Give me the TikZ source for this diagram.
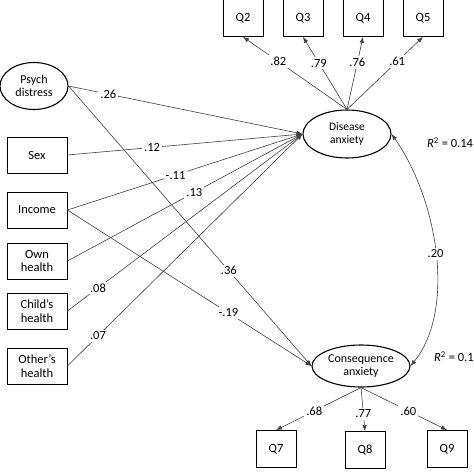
\documentclass[tikz,border=0pt]{standalone}
\usepackage{fontspec}
\setmainfont{Carlito}
\usetikzlibrary{shapes.geometric,arrows.meta}
\begin{document}
\begin{tikzpicture}[x=1pt,y=-1pt,
  font=\fontsize{12.5}{13.5}\selectfont,
  obs/.style={draw=black,line width=0.8pt,minimum width=60pt,minimum height=36pt,align=center,inner sep=1pt},
  qbox/.style={draw=black,line width=0.8pt,minimum width=40pt,minimum height=37pt,inner sep=1pt},
  lat/.style={ellipse,draw=black,line width=1.1pt,align=center,inner sep=0pt},
  path/.style={draw=black!75,line width=0.6pt,-{Latex[length=6pt,width=4.5pt]}},
  lab/.style={fill=white,inner sep=2pt,font=\fontsize{12.5}{13.5}\selectfont}]
\useasboundingbox (0,0) rectangle (474,474);
\fill[white] (0,0) rectangle (474,474);
% latent variables
\node[lat,minimum width=68pt,minimum height=47pt,align=center,font=\fontsize{12}{13.5}\selectfont] (ps) at (34,86) {Psych\\distress};
\node[lat,minimum width=88pt,minimum height=48pt,font=\fontsize{11.5}{13}\selectfont] (da) at (347,134) {Disease\\anxiety};
\node[lat,minimum width=98pt,minimum height=42pt,font=\fontsize{12}{13}\selectfont] (cq) at (361,366) {Consequence\\anxiety};
% observed predictors
\node[obs] (sex) at (37,155) {Sex};
\node[obs] (inc) at (37,210) {Income};
\node[obs] (own) at (37,261) {Own\\health};
\node[obs] (chi) at (37,311) {Child’s\\health};
\node[obs] (oth) at (37,366) {Other’s\\health};
% indicators
\node[qbox] (q2) at (243,18) {Q2};
\node[qbox] (q3) at (303,18) {Q3};
\node[qbox] (q4) at (363,18) {Q4};
\node[qbox] (q5) at (423,18) {Q5};
\node[qbox] (q7) at (276,449) {Q7};
\node[qbox] (q8) at (365,450) {Q8};
\node[qbox] (q9) at (447,449) {Q9};
% loadings disease anxiety
\draw[path] (da.north) -- node[lab,pos=0.66] {.82} (q2.south);
\draw[path] (da.north) -- node[lab,pos=0.64] {.79} (q3.south);
\draw[path] (da.north) -- node[lab,pos=0.65] {.76} (q4.south);
\draw[path] (da.north) -- node[lab,pos=0.66] {.61} (q5.south);
% loadings consequence anxiety
\draw[path] (cq.south) -- node[lab,pos=0.55] {.68} (q7.north);
\draw[path] (cq.south) -- node[lab,pos=0.6] {.77} (q8.north);
\draw[path] (cq.south) -- node[lab,pos=0.55] {.60} (q9.north);
% regressions on disease anxiety
\draw[path] (ps.east) -- node[lab,pos=0.17] {.26} (da.west);
\draw[path] (sex.east) -- node[lab,pos=0.36] {.12} (da.west);
\draw[path] (inc.east) -- node[lab,pos=0.46] {-.11} (da.west);
\draw[path] (own.east) -- node[lab,pos=0.54] {.13} (da.west);
\draw[path] (chi.east) -- node[lab,pos=0.13] {.08} (da.west);
\draw[path] (oth.east) -- node[lab,pos=0.13] {.07} (da.west);
% regressions on consequence anxiety
\draw[path] (ps.east) -- node[lab,pos=0.66] {.36} (cq.west);
\draw[path] (inc.east) -- node[lab,pos=0.66] {-.19} (cq.west);
% correlation
\draw[draw=black!75,line width=0.6pt,{Latex[length=6pt,width=4.5pt]}-{Latex[length=6pt,width=4.5pt]}]
  (da.east) .. controls (438,200) and (456,310) .. node[lab,pos=0.5] {.20} (cq.east);
% R squared
\node[anchor=west,inner sep=0pt] (r1) at (427,143) {\textit{R}\textsuperscript{2} = 0.14};
\node[anchor=west,inner sep=0pt] (r2) at (434,357) {\textit{R}\textsuperscript{2} = 0.1};
\end{tikzpicture}
\end{document}
